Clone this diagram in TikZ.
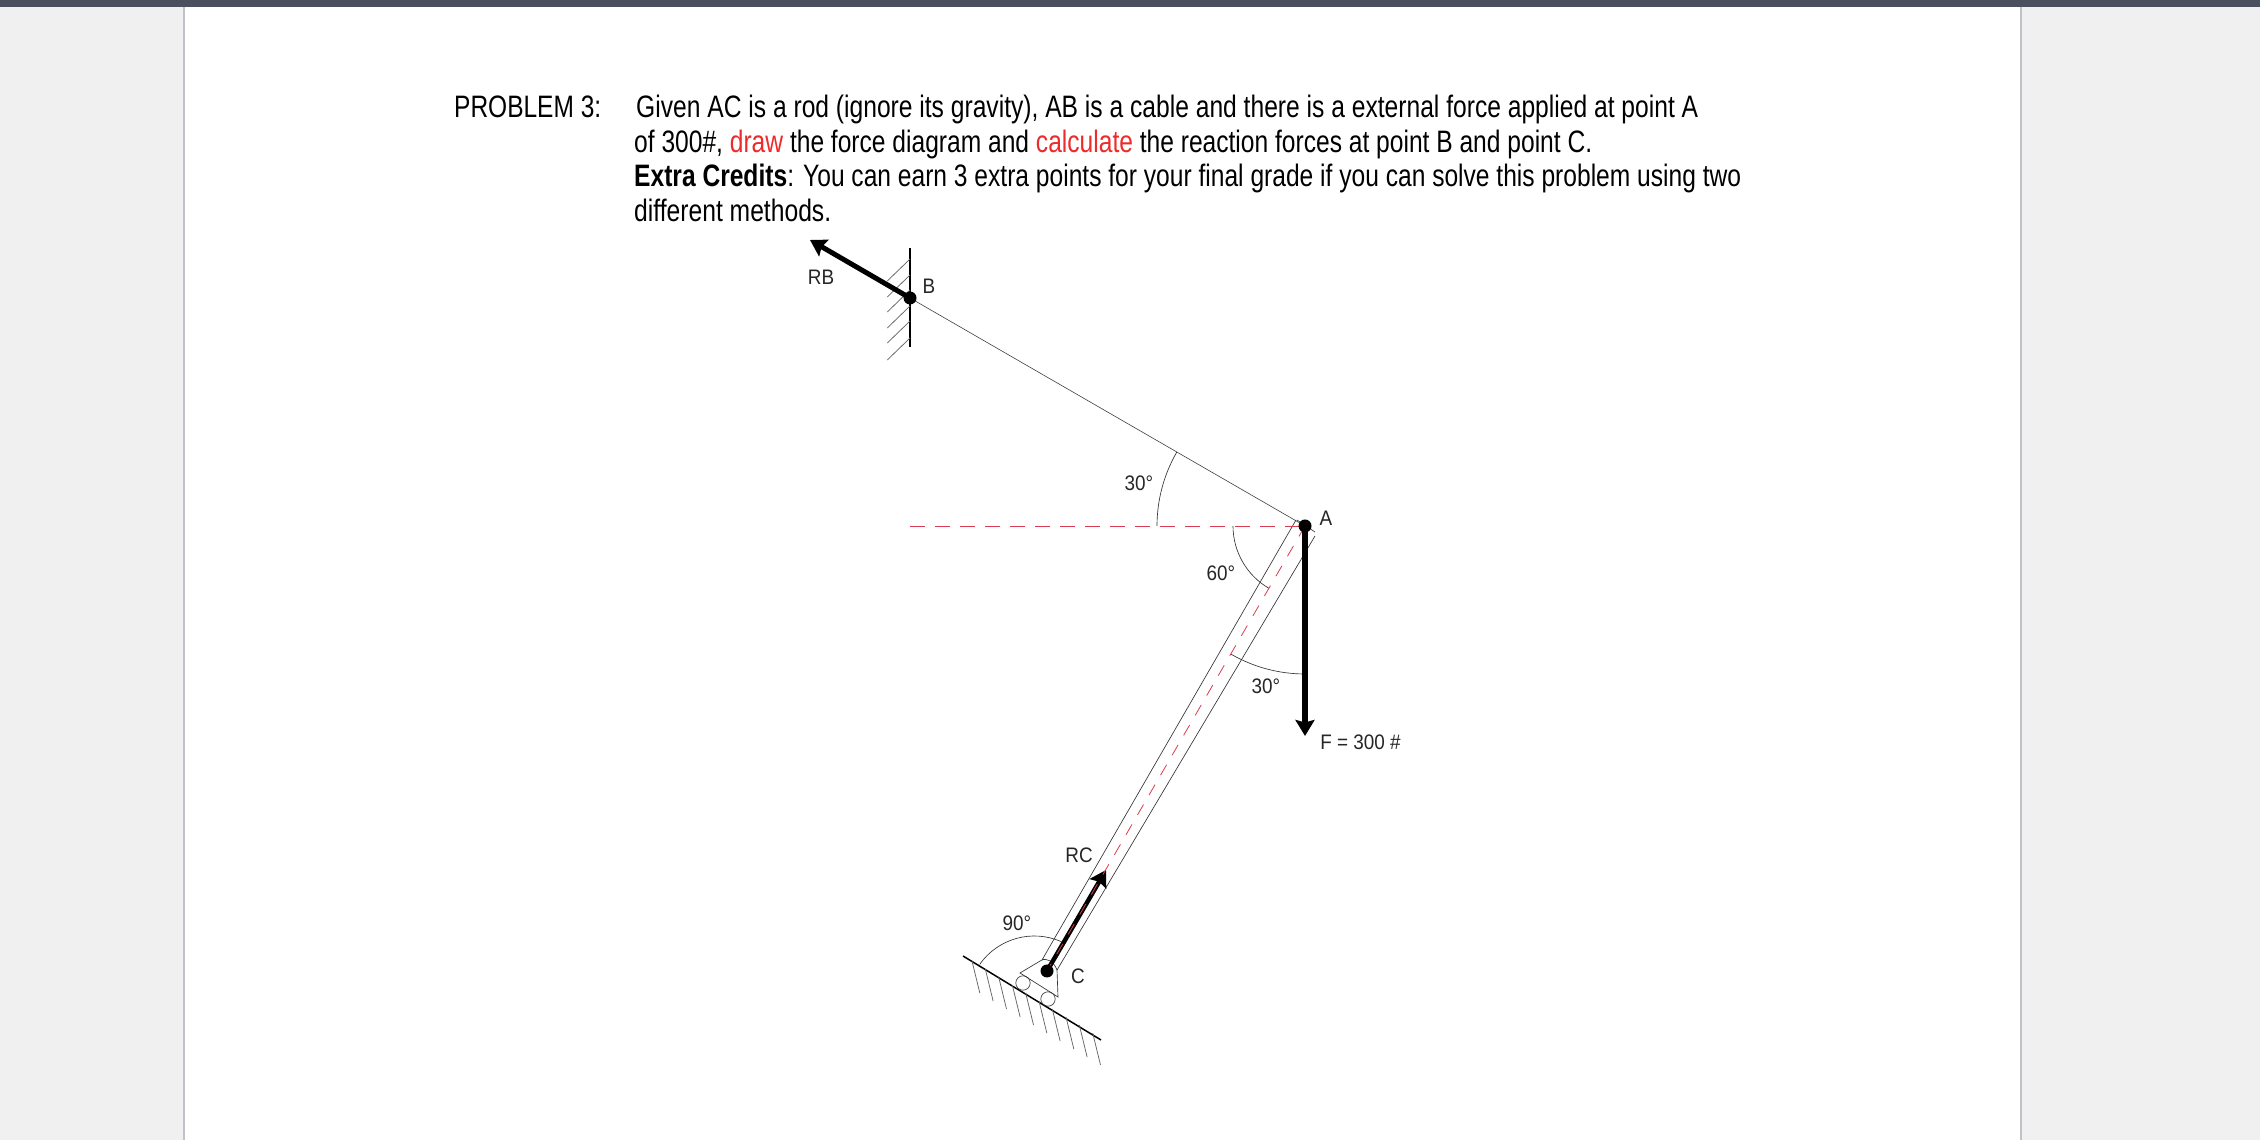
\documentclass[tikz,border=0pt]{standalone}
\usepackage{fontspec}
\usepackage{graphicx}
\setmainfont{Liberation Sans}
\usetikzlibrary{arrows.meta,calc}
\definecolor{pagegray}{HTML}{F0F0F0}
\definecolor{sidegray}{HTML}{BFC3C7}
\definecolor{barcol}{HTML}{4A5060}
\definecolor{redtxt}{HTML}{EE2A2A}
\definecolor{dashred}{HTML}{D83C50}
\newcommand{\fitw}[2]{\resizebox{#1pt}{\height}{#2}}
\newcommand{\narrow}[1]{\scalebox{0.9}[1]{#1}}
\tikzset{
  x=1pt,y=1pt,
  maintext/.style={inner sep=0pt,anchor=base west,font=\fontsize{31}{34}\selectfont},
  lab/.style={inner sep=0pt,anchor=center,font=\fontsize{21}{24}\selectfont,text=black!85},
  thin line/.style={draw=black!80,line width=0.65pt},
  hatch/.style={draw=black!60,line width=0.75pt},
  centerdash/.style={draw=dashred,line width=0.8pt,dash pattern=on 12pt off 11pt},
  force/.style={draw=black,-{Stealth[length=16pt,width=19pt,inset=2.5pt]}},
  pin/.style={circle,fill=black,inner sep=0pt,minimum size=13pt},
}
\begin{document}
\begin{tikzpicture}
\useasboundingbox (0,0) rectangle (2260,1140);
\fill[pagegray] (0,0) rectangle (2260,1140);
\fill[white] (184,0) rectangle (2021,1140);
\fill[sidegray] (182.5,0) rectangle (184.5,1140);
\fill[sidegray] (2020,0) rectangle (2022,1140);
\fill[barcol] (0,1133) rectangle (2260,1140);
% text
\node[maintext] (prob) at (454,1022) {\fitw{147}{PROBLEM 3:}};
\node[maintext] (l1) at (636,1022) {\fitw{1062}{Given AC is a rod (ignore its gravity), AB is a cable and there is a external force applied at point A}};
\node[maintext] (l2) at (634,987) {\fitw{958}{of 300\#, \textcolor{redtxt}{draw} the force diagram and \textcolor{redtxt}{calculate} the reaction forces at point B and point C.}};
\node[maintext] (l3) at (634,953) {\fitw{1107}{\textbf{Extra Credits}: You can earn 3 extra points for your final grade if you can solve this problem using two}};
\node[maintext] (l4) at (634,918) {\fitw{197}{different methods.}};
% key points
\coordinate (A) at (1305,614);
\coordinate (B) at (910,842);
\coordinate (C) at (1047,169);
\coordinate (H) at (910,614);
\coordinate (RBtip) at (810,900);
\coordinate (Ftip) at (1305,404);
\coordinate (RCtip) at (1106,270);
% wall
\draw[black,line width=1.6pt] (910,892) -- (910,793);
\foreach \yy in {881,865,850,834,819,802}{
  \draw[hatch] (910,\yy) -- ++(-22.7,-22);
}
% cable
\draw[draw=black!75,line width=0.6pt] (B) -- (A);
% rod
\draw[thin line] (1296,620) -- (1042,180);
\draw[thin line] (1315,604) -- (1057,170);
\draw[thin line] (1297,620) -- (1315,608);
% ground and roller support
\draw[black,line width=1.5pt] (963,184) -- (1101,100);
\foreach \xx/\yy in {972/179,985.3/171,998.7/163,1012.3/155,1025.7/147,1039/139,1052.3/131,1066/123,1079.3/115,1092.7/107}{
  \draw[hatch] (\xx,\yy) -- ++(7.8,-32);
}
\draw[thin line] (1020,167) -- (1041,179.5) .. controls (1047,183) and (1054,178) .. (1057,170) -- (1058,143) -- cycle;
\draw[thin line] (1023,157) circle (7.2);
\draw[thin line] (1048,141) circle (7.2);
\draw[thin line] ([shift={(145:66.7)}]1034.3,137.3) arc (145:66:66.7);
% angle arcs
\draw[thin line] ([shift={(150:148)}]A) arc (150:180:148);
\draw[thin line] ([shift={(180:72)}]A) arc (180:240:72);
\draw[thin line] ([shift={(240:148)}]A) arc (240:270:148);
% forces
\draw[force,line width=5pt] (B) -- (RBtip);
\draw[force,line width=5.5pt] (A) -- (Ftip);
\draw[force,line width=4.5pt] (C) -- (RCtip);
% centre lines
\draw[draw=dashred,line width=0.9pt,dash pattern=on 15pt off 10pt] (H) -- (A);
\draw[centerdash] (A) -- (C);
% pins
\node[pin] (pA) at (A) {};
\node[pin] (pB) at (B) {};
\node[pin] (pC) at (C) {};
% labels
\node[lab] (lRB) at (821,863) {\narrow{RB}};
\node[lab] (lB) at (929,854) {\narrow{B}};
\node[lab] (lA) at (1326,622) {\narrow{A}};
\node[lab] (l60) at (1221,567) {\narrow{60°}};
\node[lab] (l30a) at (1139,657) {\narrow{30°}};
\node[lab] (l30b) at (1266,454) {\narrow{30°}};
\node[lab] (lF) at (1360.5,398) {\narrow{F = 300 \#}};
\node[lab] (lRC) at (1079,285) {\narrow{RC}};
\node[lab] (l90) at (1017,217) {\narrow{90°}};
\node[lab] (lC) at (1078,164) {\narrow{C}};
\end{tikzpicture}
\end{document}
